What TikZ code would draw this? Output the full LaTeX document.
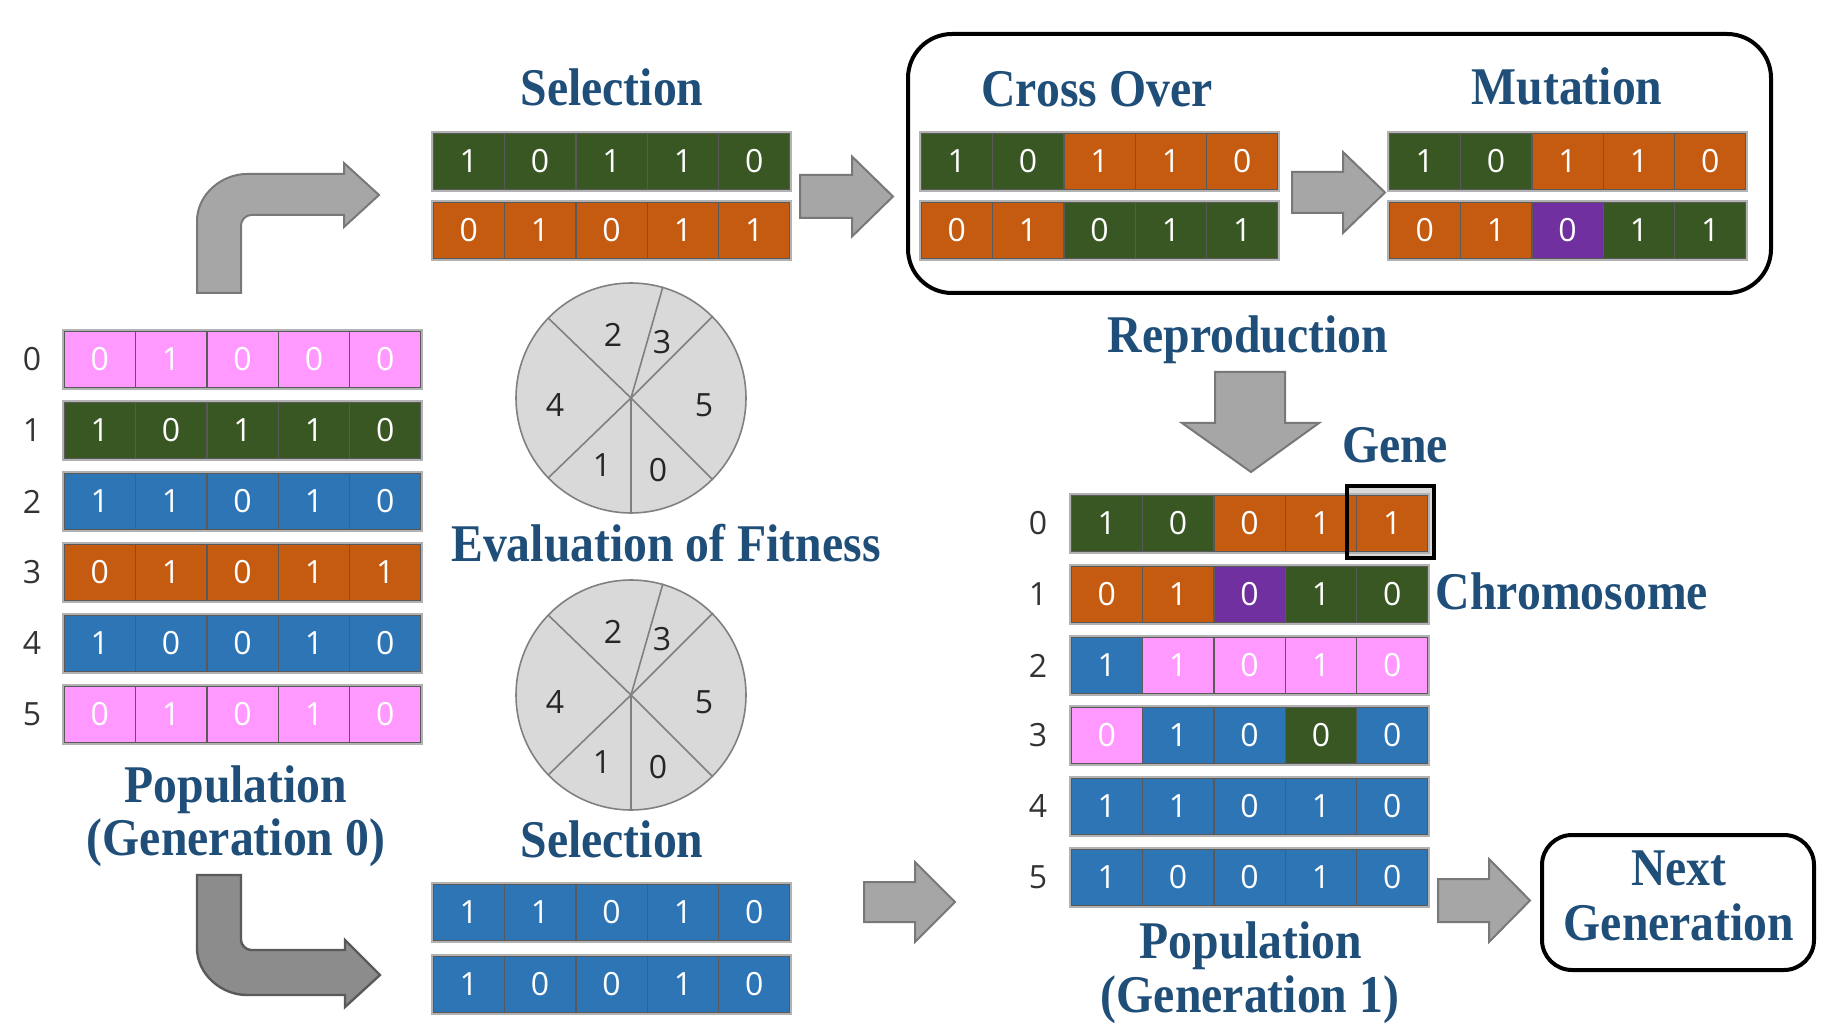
\documentclass[tikz,border=0pt]{standalone}
\usepackage{fontspec}
\setmainfont{Liberation Serif}[FakeStretch=0.9]
\newfontfamily\digitfont{Open Sans}
\definecolor{cgreen}{RGB}{56,87,35}
\definecolor{corange}{RGB}{197,90,17}
\definecolor{cblue}{RGB}{46,117,182}
\definecolor{cpink}{RGB}{255,153,255}
\definecolor{cpurple}{RGB}{112,48,160}
\definecolor{tblue}{RGB}{31,78,121}
\definecolor{arrgray}{RGB}{166,166,166}
\definecolor{arrline}{RGB}{120,120,120}
\definecolor{arrdark}{RGB}{140,140,140}
\definecolor{arrdarkline}{RGB}{90,90,90}
\definecolor{wheelgray}{RGB}{217,217,217}
\definecolor{wheelline}{RGB}{128,128,128}

\newcommand{\chrom}[4]{%
  \foreach \c/\d [count=\i] in {#4} {
    \node[cell, fill=\c] (#1\i) at ({#2+(\i-0.5)*71.4},{#3+28.5}) {\d};
  }
  \draw[rowframe] (#11.north west) rectangle (#15.south east);
}
\newcommand{\rarr}[6]{%
  \draw[blockarrow] (#1,{#4-#5}) -- (#2,{#4-#5}) -- (#2,{#4-#6}) -- (#3,#4)
    -- (#2,{#4+#6}) -- (#2,{#4+#5}) -- (#1,{#4+#5}) -- cycle;
}
\newcommand{\wheellabels}[2]{%
  \node[wnum] (#1n2) at ($(#2)+(-18,-63)$) {2};
  \node[wnum] (#1n3) at ($(#2)+(31,-56)$) {3};
  \node[wnum] (#1n4) at ($(#2)+(-76,7)$) {4};
  \node[wnum] (#1n5) at ($(#2)+(73,7)$) {5};
  \node[wnum] (#1n1) at ($(#2)+(-29,67)$) {1};
  \node[wnum] (#1n0) at ($(#2)+(27,72)$) {0};
}
\usetikzlibrary{calc}

\begin{document}
\begin{tikzpicture}[x=0.5pt,y=-0.5pt,
  cell/.style={minimum width=35.7pt, minimum height=28.5pt, inner sep=0pt,
    draw=black!65, line width=0.7pt, text=white,
    font=\digitfont\fontsize{16}{16}\selectfont},
  rowframe/.style={draw=black!30, line width=1pt},
  title/.style={text=tblue, font=\bfseries\fontsize{26.5}{26.5}\selectfont,
    inner sep=0pt, anchor=base},
  idx/.style={text=black!80, font=\digitfont\fontsize{16}{16}\selectfont, inner sep=0pt},
  wnum/.style={text=black!85, font=\digitfont\fontsize{16}{16}\selectfont, inner sep=0pt},
  blockarrow/.style={fill=arrgray, draw=arrline, line width=1pt, line join=miter},
  darkarrow/.style={fill=arrdark, draw=arrdarkline, line width=1.2pt, line join=miter},
  wheel/.style={circle, minimum size=115pt, inner sep=0pt, fill=wheelgray,
    draw=wheelline, line width=0.8pt},
  wedge/.style={draw=wheelline, line width=0.8pt},
  frame/.style={draw=black, line width=2pt, inner sep=0pt}
]
\useasboundingbox (0,0) rectangle (1832,1031);

% ---------------- Population (Generation 0)
\chrom{pa}{64}{331}{cpink/0,cpink/1,cpink/0,cpink/0,cpink/0}
\chrom{pb}{64}{402}{cgreen/1,cgreen/0,cgreen/1,cgreen/1,cgreen/0}
\chrom{pc}{64}{473}{cblue/1,cblue/1,cblue/0,cblue/1,cblue/0}
\chrom{pd}{64}{544}{corange/0,corange/1,corange/0,corange/1,corange/1}
\chrom{pe}{64}{615}{cblue/1,cblue/0,cblue/0,cblue/1,cblue/0}
\chrom{pf}{64}{686}{cpink/0,cpink/1,cpink/0,cpink/1,cpink/0}
\foreach \k/\yy in {0/331,1/402,2/473,3/544,4/615,5/686}
  \node[idx] (la\k) at (32,{\yy+28.5}) {\k};
\node[title] (popa) at (236,802) {Population};
\node[title] (gena) at (236,856) {(Generation 0)};

% ---------------- Selection (top)
\node[title] (sela) at (612,106) {Selection};
\chrom{sa}{433}{133}{cgreen/1,cgreen/0,cgreen/1,cgreen/1,cgreen/0}
\chrom{sb}{433}{202}{corange/0,corange/1,corange/0,corange/1,corange/1}

% ---------------- Selection (bottom)
\node[title] (selb) at (612,857) {Selection};
\chrom{sc}{433}{884}{cblue/1,cblue/1,cblue/0,cblue/1,cblue/0}
\chrom{sd}{433}{956}{cblue/1,cblue/0,cblue/0,cblue/1,cblue/0}

% ---------------- Wheels
\node[title] (evalf) at (666,562) {Evaluation of Fitness};
\foreach \w/\cy in {wa/398,wb/695} {
  \node[wheel] (\w) at (631,\cy) {};
  \foreach \ang in {136,45,74,224,315,270}
    \draw[wedge] (\w.center) -- (\w.\ang);
  \wheellabels{\w}{\w.center}
}

% ---------------- Bent arrows
\draw[blockarrow] (197,293) -- (197,221) .. controls (197,195) and (221,174) .. (247,174)
  -- (344,174) -- (344,163) -- (379,195) -- (344,227) -- (344,215) -- (251,215)
  .. controls (245.5,215) and (241,220.5) .. (241,225) -- (241,293) -- cycle;
\draw[darkarrow] (197,875) -- (197,948) .. controls (197,974) and (221,995) .. (247,995)
  -- (345,995) -- (345,1007) -- (380,975) -- (345,940) -- (345,950) -- (251,950)
  .. controls (245.5,950) and (241,944.5) .. (241,940) -- (241,875) -- cycle;

% ---------------- Straight block arrows
\rarr{800}{852}{893}{196.5}{21.5}{40}
\rarr{1292}{1343}{1385}{192.5}{20.5}{40.5}
\rarr{864}{915}{955}{902}{20}{40}
\rarr{1438}{1489}{1530}{900.5}{21.5}{41.5}
\draw[blockarrow] (1215,372) -- (1285,372) -- (1285,423) -- (1319,423) -- (1251,472)
  -- (1182,423) -- (1215,423) -- cycle;

% ---------------- Cross over / Mutation frame
\node[frame, rounded corners=22pt, minimum width=431.5pt, minimum height=129.5pt]
  (proc) at (1339.5,163.5) {};
\node[title] (cross) at (1097,107) {Cross Over};
\node[title] (mut) at (1567,105) {Mutation};
\chrom{ca}{921}{133}{cgreen/1,cgreen/0,corange/1,corange/1,corange/0}
\chrom{cb}{921}{202}{corange/0,corange/1,cgreen/0,cgreen/1,cgreen/1}
\chrom{ma}{1389}{133}{cgreen/1,cgreen/0,corange/1,corange/1,corange/0}
\chrom{mb}{1389}{202}{corange/0,corange/1,cpurple/0,cgreen/1,cgreen/1}

\node[title] (repro) at (1248,353) {Reproduction};
\node[title] (genet) at (1395,463) {Gene};

% ---------------- Population (Generation 1)
\fill[black!15] (1345,484) rectangle (1436,560);
\chrom{qa}{1071}{495}{cgreen/1,cgreen/0,corange/0,corange/1,corange/1}
\chrom{qb}{1071}{566}{corange/0,corange/1,cpurple/0,cgreen/1,cgreen/0}
\chrom{qc}{1071}{637}{cblue/1,cpink/1,cpink/0,cpink/1,cpink/0}
\chrom{qd}{1071}{707}{cpink/0,cblue/1,cblue/0,cgreen/0,cblue/0}
\chrom{qe}{1071}{778}{cblue/1,cblue/1,cblue/0,cblue/1,cblue/0}
\chrom{qf}{1071}{849}{cblue/1,cblue/0,cblue/0,cblue/1,cblue/0}
\foreach \k/\yy in {0/495,1/566,2/637,3/707,4/778,5/849}
  \node[idx] (lb\k) at (1038,{\yy+28.5}) {\k};
\node[frame, minimum width=43.5pt, minimum height=36pt] (genebox) at (1390.5,522) {};
\node[title] (chromo) at (1572,610) {Chromosome};
\node[title] (popb) at (1251,958) {Population};
\node[title] (genb) at (1250,1012) {(Generation 1)};

% ---------------- Next generation
\node[frame, rounded corners=15pt, minimum width=136pt, minimum height=67.5pt]
  (next) at (1678,902.5) {};
\node[title] (nexta) at (1679,885) {Next};
\node[title] (nextb) at (1679,940) {Generation};
\end{tikzpicture}
\end{document}
